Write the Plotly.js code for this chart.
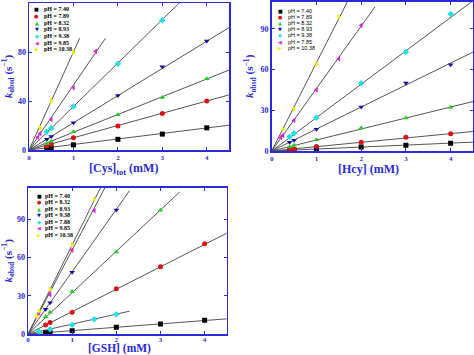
<!DOCTYPE html>
<html><head><meta charset="utf-8">
<script src="https://cdn.plot.ly/plotly-3.0.1.min.js"></script>
<style>body{margin:0;padding:0;background:#fff}#plot{width:474px;height:355px}</style>
</head><body><div id="plot"></div>
<script>
// ---------- data ----------
const colors = ['#000000', '#dd1111', '#22cc22', '#1010a0', '#22e0e0', '#dd22dd', '#eeee00'];
const symbols = ['square', 'circle', 'triangle-up', 'triangle-down', 'diamond', 'triangle-left', 'triangle-right'];
const glyphs = ['■', '●', '▲', '▼', '◆', '◀', '▶'];

// Panel 1: [Cys]tot
const cysLabels = ['pH = 7.40', 'pH = 7.89', 'pH = 8.32', 'pH = 8.93', 'pH = 9.38', 'pH = 9.85', 'pH = 10.38'];
const cysX = [
  [0.4, 0.5, 1, 2, 3, 4],
  [0.4, 0.5, 1, 2, 3, 4],
  [0.4, 0.5, 1, 2, 3, 4],
  [0.4, 0.5, 1, 2, 3, 4],
  [0.4, 0.5, 1, 2, 3],
  [0.2, 0.25, 0.5, 1, 1.5],
  [0.25, 0.5, 1]
];
const cysY = [
  [1.1, 1.9, 4.2, 8.7, 13.0, 18.1],
  [3.5, 4.8, 10.0, 19.5, 29.8, 40.0],
  [5.2, 7.0, 14.8, 28.8, 42.8, 58.2],
  [8.8, 11.0, 22.3, 44.5, 67.9, 89.0],
  [15.0, 18.0, 35.5, 70.5, 106.0],
  [10.5, 13.5, 25.0, 51.0, 80.5],
  [18.0, 40.0, 80.0]
];
const cysSlope = [4.5, 10.0, 14.5, 22.2, 35.5, 53.0, 80.0];
const cysEnd = [4.5, 4.5, 4.5, 4.5, 3.38, 1.72, 1.14];

// Panel 2: [Hcy]
const hcyLabels = ['pH = 7.40', 'pH = 7.89', 'pH = 8.32', 'pH = 8.93', 'pH = 9.38', 'pH = 7.85', 'pH = 10.38'];
const hcyX = [
  [0.4, 0.5, 1, 2, 3, 4],
  [0.4, 0.5, 1, 2, 3, 4],
  [0.4, 0.5, 1, 2, 3, 4],
  [0.4, 0.5, 1, 2, 3, 4],
  [0.4, 0.5, 1, 2, 3, 4],
  [0.2, 0.25, 0.5, 1, 1.5, 2],
  [0.25, 0.5, 1, 1.5]
];
const hcyY = [
  [0.6, 0.7, 1.4, 2.9, 4.2, 5.7],
  [1.3, 1.5, 3.3, 6.5, 10.1, 12.8],
  [3.0, 4.2, 8.3, 17.0, 24.3, 32.2],
  [6.5, 8.0, 16.0, 32.5, 50.1, 63.6],
  [10.5, 13.0, 24.5, 50.0, 73.0, 101.0],
  [10.0, 11.5, 22.5, 45.0, 68.0, 92.5],
  [16.0, 31.0, 64.0, 99.0]
];
const hcySlope = [1.45, 3.2, 8.1, 16.2, 24.6, 46.0, 65.0];
const hcyEnd = [4.5, 4.5, 4.5, 4.5, 4.5, 2.31, 1.69];

// Panel 3: [GSH]
const gshLabels = ['pH = 7.40', 'pH = 8.32', 'pH = 8.93', 'pH = 9.38', 'pH = 7.88', 'pH = 9.85', 'pH = 10.38'];
const gshX = [
  [0.4, 0.5, 1, 2, 3, 4],
  [0.4, 0.5, 1, 2, 3, 4],
  [0.4, 0.5, 1, 2, 3],
  [0.4, 0.5, 1, 2],
  [0.25, 0.5, 1, 1.5, 2],
  [0.25, 0.5, 1, 1.5],
  [0.2, 0.25, 0.5, 1, 1.5]
];
const gshY = [
  [0.9, 1.2, 2.5, 5.3, 7.8, 10.9],
  [7.0, 9.0, 17.0, 35.5, 52.8, 70.9],
  [13.5, 17.0, 33.5, 64.5, 97.2],
  [19.5, 24.5, 48.5, 97.5],
  [2.0, 3.8, 7.3, 11.5, 15.6],
  [16.5, 31.0, 66.0, 97.0],
  [14.0, 18.0, 35.0, 70.0, 106.0]
];
const gshSlope = [2.65, 17.6, 32.5, 49.0, 7.8, 66.0, 70.0];
const gshEnd = [4.5, 4.5, 3.44, 2.3, 2.3, 1.75, 1.65];

const xTicks = [0, 1, 2, 3, 4];
const cysYTicks = [0, 40, 80, 120];
const hcyYTicks = [0, 30, 60, 90];
const gshYTicks = [0, 30, 60, 90];

// ---------- build ----------
const W = 474, H = 355;
const blue = '#2a2ad8';
const serif = 'Liberation Serif, Times New Roman, serif';
const traces = [];
function addPanel(X, Y, slopes, ends, xa, ya) {
  for (let i = 0; i < X.length; i++) {
    traces.push({x: [0, ends[i]], y: [0, slopes[i] * ends[i]], mode: 'lines', xaxis: xa, yaxis: ya,
      line: {color: '#555555', width: 1}, showlegend: false, hoverinfo: 'skip'});
  }
  for (let i = 0; i < X.length; i++) {
    traces.push({x: X[i], y: Y[i], mode: 'markers', xaxis: xa, yaxis: ya, showlegend: false,
      marker: {symbol: symbols[i], color: colors[i], size: 5, line: {width: 0}}});
  }
}
addPanel(cysX, cysY, cysSlope, cysEnd, 'x', 'y');
addPanel(hcyX, hcyY, hcySlope, hcyEnd, 'x2', 'y2');
addPanel(gshX, gshY, gshSlope, gshEnd, 'x3', 'y3');

function px(v) { return v / W; }
function py(v) { return 1 - v / H; }

function xaxis(domain, anchor, standoff) {
  return {domain: domain, anchor: anchor, range: [0, 4.5], tickvals: xTicks, ticks: 'inside', ticklen: 3,
    tickcolor: blue, tickwidth: 1, showline: true, linecolor: blue, linewidth: 1.5, mirror: 'ticks',
    showgrid: false, zeroline: false, fixedrange: true, ticklabelstandoff: standoff,
    tickfont: {family: serif, size: 7, color: blue, weight: 'bold'}};
}
function yaxis(domain, anchor, range, ticks) {
  return {domain: domain, anchor: anchor, range: range, tickvals: ticks, ticks: 'inside', ticklen: 3,
    tickcolor: blue, tickwidth: 1, showline: true, linecolor: blue, linewidth: 1.5, mirror: 'ticks',
    showgrid: false, zeroline: false, fixedrange: true,
    tickfont: {family: serif, size: 8, color: blue, weight: 'bold'},
    title: {text: '<i>k</i><sub>obsd</sub> (s<sup>−1</sup>)', font: {family: serif, size: 11, color: blue, weight: 'bold'}, standoff: 4}};
}

const annotations = [];
function addLegend(labels, mx, tx, y0, dy, font, fsize, weight) {
  for (let i = 0; i < labels.length; i++) {
    const yy = y0 + i * dy;
    annotations.push({xref: 'paper', yref: 'paper', x: px(mx), y: py(yy), xanchor: 'center', yanchor: 'middle',
      text: glyphs[i], showarrow: false, borderpad: 0, font: {family: 'DejaVu Sans', size: 5, color: colors[i]}});
    annotations.push({xref: 'paper', yref: 'paper', x: px(tx), y: py(yy), xanchor: 'left', yanchor: 'middle',
      text: labels[i], showarrow: false, borderpad: 0, font: {family: font, size: fsize, color: '#000000', weight: weight}});
  }
}
addLegend(cysLabels, 36.7, 42.5, 9.3, 6.65, serif, 6, 'bold');
addLegend(hcyLabels, 280, 287, 10.7, 6.2, 'Liberation Sans, Arial, sans-serif', 5.5, 'normal');
addLegend(gshLabels, 39, 43.5, 195.7, 6.55, serif, 6, 'bold');

function addXTitle(text, cx, cy, anchor, size) {
  annotations.push({xref: 'paper', yref: 'paper', x: px(cx), y: py(cy), xanchor: 'center', yanchor: anchor,
    text: text, showarrow: false, borderpad: 0, font: {family: serif, size: size, color: blue, weight: 'bold'}});
}
addXTitle('[Cys]<sub>tot</sub> (mM)', 123, 159.5, 'top', 12);
addXTitle('[Hcy] (mM)', 368, 160.5, 'top', 12);
addXTitle('[GSH] (mM)', 119, 356, 'bottom', 11.5);

const layout = {
  width: W, height: H, margin: {l: 0, r: 0, t: 0, b: 0}, paper_bgcolor: '#ffffff', plot_bgcolor: '#ffffff',
  showlegend: false,
  xaxis: xaxis([px(29), px(229)], 'y', 0),
  yaxis: yaxis([py(150), py(3)], 'x', [0, 120], cysYTicks),
  xaxis2: xaxis([px(271.7), px(473)], 'y2', 0),
  yaxis2: yaxis([py(151), py(1.7)], 'x2', [0, 110], hcyYTicks),
  xaxis3: xaxis([px(28), px(226.7)], 'y3', -2),
  yaxis3: yaxis([py(334), py(187.7)], 'x3', [0, 115], gshYTicks),
  annotations: annotations
};
Plotly.newPlot('plot', traces, layout, {staticPlot: true, displayModeBar: false});
</script></body></html>
